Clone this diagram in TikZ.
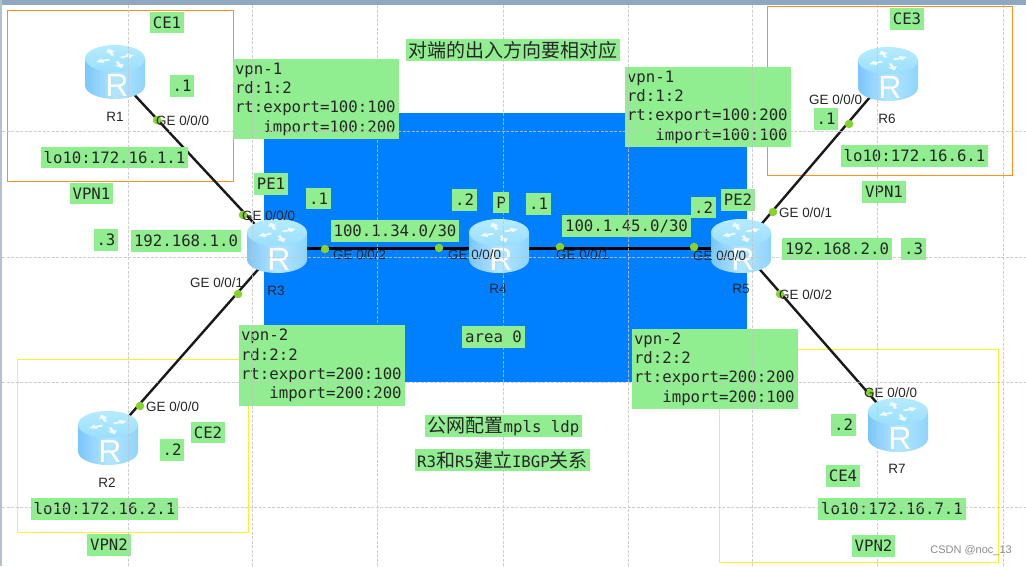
\documentclass[tikz,border=0pt]{standalone}
\usepackage{fontspec}
\setmainfont{Liberation Sans}
\setmonofont{DejaVu Sans Mono}
\newfontfamily\cjk{Noto Sans CJK SC}
\definecolor{labgreen}{HTML}{90EE90}
\definecolor{areablue}{HTML}{007FFF}
\definecolor{ceorange}{HTML}{FF8F1F}
\definecolor{ceyellow}{HTML}{FFF02A}
\definecolor{dotgreen}{HTML}{86D32E}
\definecolor{gridgray}{HTML}{C4C4C4}
\definecolor{barblue}{HTML}{8FA7BF}
\tikzset{
  lab/.style={fill=labgreen,inner sep=0pt,font=\fontsize{15.7}{19.3}\selectfont\ttfamily,text=black!85},
  blk/.style={lab,align=left,inner xsep=2pt},
  ifname/.style={font=\fontsize{13.4}{15}\selectfont,text=black!85,inner sep=0pt,anchor=west},
  rname/.style={font=\fontsize{13.5}{15}\selectfont,text=black!85,inner sep=0pt},
  link/.style={draw=black!90,line width=2.4pt},
  corelink/.style={draw=black,line width=3pt},
  port/.style={circle,fill=dotgreen,inner sep=0pt,minimum size=8.5pt},
  gridline/.style={draw=gridgray,line width=.7pt,dash pattern=on 3pt off 1.5pt,opacity=.8},
  rnode/.style={inner sep=0pt,minimum size=1pt},
  cebox/.style={line width=.8pt}
}
\newcommand\lab[6]{\node[lab,minimum width={(#4-#2)*1pt},minimum height={(#5-#3)*1pt}] (#1) at ({(#2+#4)/2},{(#3+#5)/2}) {#6};}
\newcommand\blk[6]{\node[blk,text width={(#4-#2-4)*1pt},minimum height={(#5-#3)*1pt}] (#1) at ({(#2+#4)/2},{(#3+#5)/2}) {#6};}
\newcommand\routericon[1]{%
  \begin{scope}[shift={(#1)}]
    \path[left color=RouterA,right color=RouterC,middle color=RouterB]
      (-30,-15.5) -- (-30,11.5) arc (180:0:30 and 13.5) -- (30,-15.5) -- cycle;
    \path[top color=RouterT,bottom color=RouterD] (0,-15.5) ellipse (30 and 13.5);
    \foreach \a in {20,110,200,290}{
      \fill[white,opacity=.85,shift={(0,-15.5)},yscale=.52,rotate=\a]
        (6,-1.6)--(13,-1.6)--(13,-4.6)--(20,0)--(13,4.6)--(13,1.6)--(6,1.6)--cycle;
    }
    \node[white,inner sep=0pt,font=\fontsize{32}{32}\selectfont] (#1glyph) at (2,11) {R};
  \end{scope}}
\definecolor{RouterA}{HTML}{7CC6FB}
\definecolor{RouterB}{HTML}{B4E6FF}
\definecolor{RouterC}{HTML}{8FD4FC}
\definecolor{RouterT}{HTML}{B5EBFF}
\definecolor{RouterD}{HTML}{9ADFFD}
\newcommand\cj[1]{{\fontsize{19}{20}\selectfont\cjk #1}}
\begin{document}
\begin{tikzpicture}[x=1pt,y=-1pt]
\useasboundingbox (0,0) rectangle (1026,566);
\fill[white] (0,0) rectangle (1026,566);
\fill[barblue] (0,0) rectangle (1026,5);
\fill[barblue!70] (0,0) rectangle (2,566);
% regions
\fill[areablue] (264,113) rectangle (747,382);
\draw[ceorange,cebox] (7,10) rectangle (233,181);
\draw[ceorange,cebox] (767,6) rectangle (1012,175);
\draw[ceyellow,cebox] (17,359) rectangle (248,532);
\draw[ceyellow,cebox] (719,349) rectangle (998,562);
% router anchors
\node[rnode] (R1) at (115,74) {};
\node[rnode] (R2) at (108,440) {};
\node[rnode] (R3) at (277,248) {};
\node[rnode] (R4) at (499,248) {};
\node[rnode] (R5) at (741,248) {};
\node[rnode] (R6) at (888,76) {};
\node[rnode] (R7) at (898,427) {};
% connectors
\path[link] (R1) -- (R3);
\path[link] (R3) -- (R2);
\path[corelink] (R3) -- (R4);
\path[corelink] (R4) -- (R5);
\path[link] (R5) -- (R6);
\path[link] (R5) -- (R7);
% ports
\node[port] (p1) at (157,120) {};
\node[port] (p2) at (243,215) {};
\node[port] (p3) at (238,294) {};
\node[port] (p4) at (140,406) {};
\node[port] (p5) at (325,249) {};
\node[port] (p6) at (439,248) {};
\node[port] (p7) at (560,247) {};
\node[port] (p8) at (694,247) {};
\node[port] (p9) at (773,212) {};
\node[port] (p10) at (849,124) {};
\node[port] (p11) at (780,294) {};
\node[port] (p12) at (870,393) {};
% routers
\routericon{R1}\routericon{R2}\routericon{R3}\routericon{R4}\routericon{R5}\routericon{R6}\routericon{R7}
% router names
\node[rname] (n1) at (115,117) {R1};
\node[rname] (n2) at (107,483) {R2};
\node[rname] (n3) at (276,291) {R3};
\node[rname] (n4) at (498,289) {R4};
\node[rname] (n5) at (741,289) {R5};
\node[rname] (n6) at (887,119) {R6};
\node[rname] (n7) at (897,469) {R7};
% interface names
\node[ifname] (g1) at (156,121) {GE 0/0/0};
\node[ifname] (g2) at (242,216) {GE 0/0/0};
\node[ifname] (g3) at (333,255) {GE 0/0/2};
\node[ifname] (g4) at (190,283) {GE 0/0/1};
\node[ifname] (g5) at (146,407) {GE 0/0/0};
\node[ifname] (g6) at (448,255) {GE 0/0/0};
\node[ifname] (g7) at (556,255) {GE 0/0/1};
\node[ifname] (g8) at (693,256) {GE 0/0/0};
\node[ifname] (g9) at (779,213) {GE 0/0/1};
\node[ifname] (g10) at (779,295) {GE 0/0/2};
\node[ifname] (g11) at (809,100) {GE 0/0/0};
\node[ifname] (g12) at (864,393) {GE 0/0/0};
% green labels
\lab{a1}{150}{12}{184}{33}{CE1}
\lab{a2}{170}{75}{194}{97}{.1}
\lab{a3}{41}{147}{188}{168}{lo10:172.16.1.1}
\lab{a4}{70}{183}{113}{204}{VPN1}
\lab{a5}{254}{173}{288}{195}{PE1}
\lab{a6}{306}{188}{331}{209}{.1}
\lab{a7}{94}{229}{118}{251}{.3}
\lab{a8}{131}{230}{241}{252}{192.168.1.0}
\lab{a9}{331}{220}{459}{242}{100.1.34.0/30}
\lab{a10}{406}{39}{620}{61}{\cj{对端的出入方向要相对应}}
\lab{a11}{890}{8}{924}{30}{CE3}
\lab{a12}{814}{108}{838}{130}{.1}
\lab{a13}{841}{145}{988}{167}{lo10:172.16.6.1}
\lab{a14}{862}{181}{906}{203}{VPN1}
\lab{a15}{452}{189}{477}{211}{.2}
\lab{a16}{493}{192}{509}{213}{P}
\lab{a17}{526}{193}{551}{215}{.1}
\lab{a18}{562}{215}{691}{237}{100.1.45.0/30}
\lab{a19}{691}{197}{716}{218}{.2}
\lab{a20}{721}{189}{755}{211}{PE2}
\lab{a21}{782}{238}{892}{260}{192.168.2.0}
\lab{a22}{901}{238}{926}{260}{.3}
\lab{a23}{191}{422}{225}{443}{CE2}
\lab{a24}{160}{439}{184}{461}{.2}
\lab{a25}{31}{498}{178}{520}{lo10:172.16.2.1}
\lab{a26}{87}{534}{131}{556}{VPN2}
\lab{a27}{462}{326}{525}{348}{area 0}
\lab{a28}{425}{415}{582}{437}{\cj{公网配置}mpls ldp}
\lab{a29}{415}{449}{590}{471}{R3\cj{和}R5\cj{建立}IBGP\cj{关系}}
\lab{a30}{831}{414}{856}{436}{.2}
\lab{a31}{826}{465}{860}{487}{CE4}
\lab{a32}{818}{498}{966}{520}{lo10:172.16.7.1}
\lab{a33}{852}{535}{895}{557}{VPN2}
\blk{b1}{233}{59}{399}{139}{vpn-1\\rd:1:2\\rt:export=100:100\\\phantom{xxx}import=100:200}
\blk{b2}{625}{67}{791}{147}{vpn-1\\rd:1:2\\rt:export=100:200\\\phantom{xxx}import=100:100}
\blk{b3}{239}{325}{405}{406}{vpn-2\\rd:2:2\\rt:export=200:100\\\phantom{xxx}import=200:200}
\blk{b4}{632}{329}{798}{409}{vpn-2\\rd:2:2\\rt:export=200:200\\\phantom{xxx}import=200:100}
% page grid
\foreach \x in {128,252,377,503,628,752,877,1003}{\path[gridline] (\x,5) -- (\x,566);}
\foreach \y in {131,257,382,507}{\path[gridline] (2,\y) -- (1026,\y);}
% watermark
\node[font=\fontsize{11}{13}\selectfont,text=black!45,inner sep=0pt,anchor=east] (wm) at (1012,551) {CSDN @noc\_13};
\end{tikzpicture}
\end{document}
